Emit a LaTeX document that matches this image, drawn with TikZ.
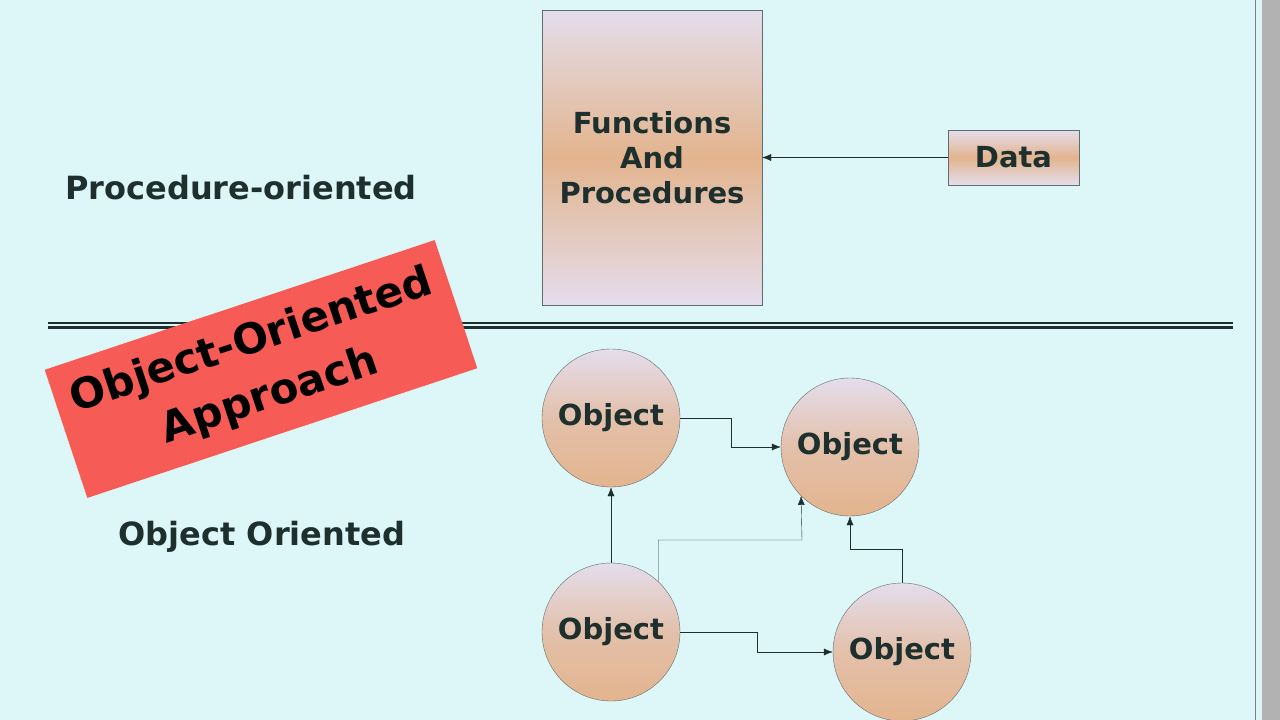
\documentclass[tikz,border=0pt]{standalone}
\usepackage{fontspec}
\setmainfont{DejaVu Sans}
\usetikzlibrary{arrows.meta}
\definecolor{bgcyan}{HTML}{DDF6F8}
\definecolor{lav}{HTML}{E4DDEC}
\definecolor{tan}{HTML}{E3B48E}
\definecolor{inkc}{HTML}{1E302E}
\definecolor{redbox}{HTML}{F75B55}
\tikzset{
  box/.style={draw=inkc!70,thin,top color=lav,bottom color=lav,middle color=tan,
    font=\fontsize{29}{35}\selectfont\bfseries,text=inkc,align=center,inner sep=0pt},
  obj/.style={circle,draw=inkc!70,thin,minimum size=138pt,inner sep=0pt,
    top color=lav,bottom color=tan,middle color=tan!70!lav,
    font=\fontsize{29}{33}\selectfont\bfseries,text=inkc},
  link/.style={draw=inkc,-{Latex[length=9pt,width=7pt]}}
}
\begin{document}
\begin{tikzpicture}[x=1pt,y=-1pt]
\fill[bgcyan] (0,0) rectangle (1280,720);
\useasboundingbox (0,0) rectangle (1280,720);
\fill[gray!60] (1262,0) rectangle (1280,720);
\draw[gray,thick] (1255,0)--(1255,720);
% procedure part
\node[font=\fontsize{32}{36}\selectfont\bfseries,text=inkc] (proc) at (241,188) {Procedure-oriented};
\node[box,minimum width=220pt,minimum height=295pt] (func) at (652,157.5) {Functions\\And\\Procedures};
\node[box,minimum width=131pt,minimum height=55pt] (data) at (1013.5,157.5) {Data};
\draw[link] (data) -- (func);
% separator
\draw[inkc,line width=2.5pt] (48,323)--(1233,323);
\draw[inkc,line width=2.5pt] (48,327.5)--(1233,327.5);
% objects
\node[font=\fontsize{32}{36}\selectfont\bfseries,text=inkc] (oo) at (262,537) {Object Oriented};
\node[obj] (o1) at (611,418) {Object};
\node[obj] (o2) at (850,447) {Object};
\node[obj] (o3) at (611,632) {Object};
\node[obj] (o4) at (902,652) {Object};
\draw[link] (o1.east) -- (731,418) |- (o2.west);
\draw[link] (o3) -- (o1);
\draw[link] (o3.47) |- (802,540) -- (o2.225);
\draw[link] (o4.north) |- (850,549) -- (o2.south);
\draw[link] (o3.east) -- (757,632) |- (o4.west);
% banner
\node[fill=redbox,rotate=18.4,minimum width=411pt,minimum height=135pt,align=center,
  inner sep=0pt,font=\fontsize{42}{58}\selectfont\bfseries,text=black] (banner) at (261,369) {Object-Oriented\\Approach};
\end{tikzpicture}
\end{document}
